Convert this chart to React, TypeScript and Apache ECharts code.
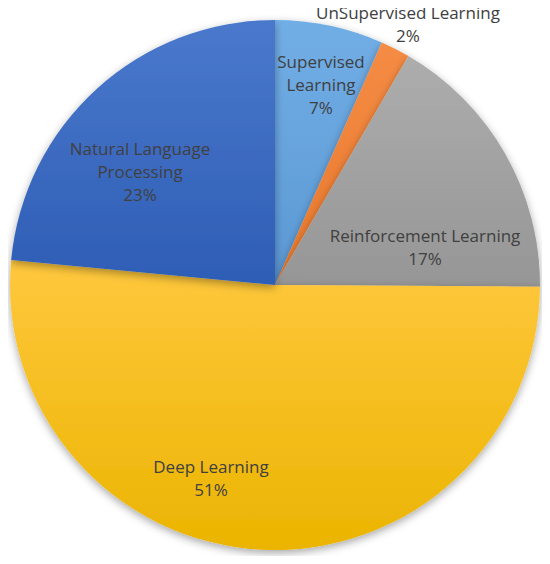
import React, { useEffect, useRef } from "react";
import * as echarts from "echarts";

const categories = [
  "Supervised Learning",
  "UnSupervised Learning",
  "Reinforcement Learning",
  "Deep Learning",
  "Natural Language Processing",
];
const displayNames = [
  "Supervised\nLearning",
  "UnSupervised Learning",
  "Reinforcement Learning",
  "Deep Learning",
  "Natural Language\nProcessing",
];
const values = [6.6, 1.8, 16.7, 51.4, 23.5];
const percentLabels = ["7%", "2%", "17%", "51%", "23%"];

const colorsTop = ["#72AEE6", "#F58C45", "#ADADAD", "#FFC83E", "#4A79CC"];
const colorsBottom = ["#5B98D3", "#E8782C", "#969696", "#EBB400", "#2E5DB5"];
const labelPos: [number, number][] = [
  [321, 84],
  [408, 24],
  [425, 247],
  [211, 478],
  [140, 171],
];

export default function App() {
  const ref = useRef<HTMLDivElement>(null);
  useEffect(() => {
    if (!ref.current) return;
    const chart = echarts.init(ref.current, undefined, { renderer: "svg" });
    chart.setOption({
      animation: false,
      series: [
        {
          type: "pie",
          center: [275, 285],
          radius: 265,
          startAngle: 90,
          clockwise: true,
          avoidLabelOverlap: false,
          label: {
            show: true,
            position: "inside",
            color: "#404040",
            fontFamily: "Open Sans",
            fontSize: 17,
            lineHeight: 23,
            align: "center",
            formatter: (p: any) =>
              `${displayNames[p.dataIndex]}\n${percentLabels[p.dataIndex]}`,
          },
          labelLine: { show: false },
          labelLayout: (p: any) => ({
            x: labelPos[p.dataIndex][0],
            y: labelPos[p.dataIndex][1],
          }),
          emphasis: { disabled: true },
          data: categories.map((c, i) => ({
            name: c,
            value: values[i],
            itemStyle: {
              color: new echarts.graphic.LinearGradient(0, 0, 0, 1, [
                { offset: 0, color: colorsTop[i] },
                { offset: 1, color: colorsBottom[i] },
              ]),
              shadowBlur: 8,
              shadowColor: "rgba(0,0,0,0.35)",
              shadowOffsetY: 3,
            },
          })),
        },
      ],
    });
    return () => chart.dispose();
  }, []);
  return <div ref={ref} style={{ width: 550, height: 564, margin: -8 }} />;
}
